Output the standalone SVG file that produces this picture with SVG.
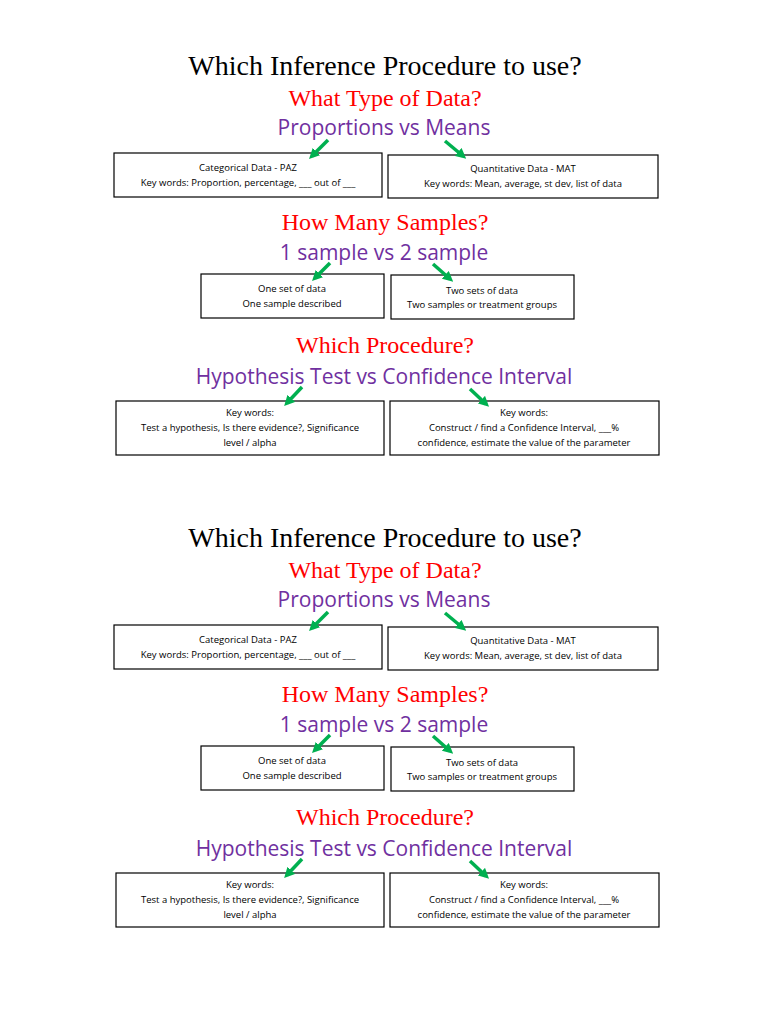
<svg xmlns="http://www.w3.org/2000/svg" xmlns:xlink="http://www.w3.org/1999/xlink" width="768" height="1024" viewBox="0 0 768 1024">
<style>
.t{font-family:"Liberation Serif",serif;font-size:28px;fill:#000;text-anchor:middle}
.r{font-family:"Liberation Serif",serif;font-size:24px;fill:#ff0000;text-anchor:middle}
.p{font-family:"Open Sans",sans-serif;font-size:21px;fill:#7030a0;text-anchor:middle}
.b{fill:#fff;stroke:#000;stroke-width:1.2}
.s{font-family:"Open Sans",sans-serif;font-size:9.5px;fill:#000;text-anchor:middle}
.a{stroke:#00b050;stroke-width:3.5;fill:none;marker-end:url(#ah)}
</style>
<defs>
<marker id="ah" viewBox="0 0 10 10" refX="6" refY="5" markerWidth="3" markerHeight="3" orient="auto"><path d="M0,0L10,5L0,10z" fill="#00b050"/></marker>
</defs>
<rect width="768" height="1024" fill="#fff"/>
<g id="copy1">
<g id="titles1">
<text class="t" x="385" y="75">Which Inference Procedure to use?</text>
<text class="r" x="385" y="106">What Type of Data?</text>
<text class="p" x="384" y="135">Proportions vs Means</text>
<text class="r" x="385" y="230">How Many Samples?</text>
<text class="p" x="384" y="260">1 sample vs 2 sample</text>
<text class="r" x="385" y="353">Which Procedure?</text>
<text class="p" x="384" y="384">Hypothesis Test vs Confidence Interval</text>
</g>
<g id="n1a"><rect class="b" x="114" y="153" width="268" height="44"/><text class="s" x="248" y="171">Categorical Data - PAZ</text><text class="s" x="248" y="186">Key words: Proportion, percentage, ___ out of ___</text></g>
<g id="n1b"><rect class="b" x="388" y="155" width="270" height="43"/><text class="s" x="523" y="172">Quantitative Data - MAT</text><text class="s" x="523" y="187">Key words: Mean, average, st dev, list of data</text></g>
<g id="n1c"><rect class="b" x="201" y="274" width="183" height="44"/><text class="s" x="292" y="292">One set of data</text><text class="s" x="292" y="307">One sample described</text></g>
<g id="n1d"><rect class="b" x="391" y="275" width="183" height="44"/><text class="s" x="482" y="294">Two sets of data</text><text class="s" x="482" y="308">Two samples or treatment groups</text></g>
<g id="n1e"><rect class="b" x="116" y="401" width="268" height="54"/><text class="s" x="250" y="416">Key words:</text><text class="s" x="250" y="431">Test a hypothesis, Is there evidence?, Significance</text><text class="s" x="250" y="446">level / alpha</text></g>
<g id="n1f"><rect class="b" x="390" y="401" width="269" height="54"/><text class="s" x="524" y="416">Key words:</text><text class="s" x="524" y="431">Construct / find a Confidence Interval, ___%</text><text class="s" x="524" y="446">confidence, estimate the value of the parameter</text></g>
<g id="connectors1">
<line class="a" x1="328" y1="140" x2="312" y2="156"/>
<line class="a" x1="445" y1="141" x2="463" y2="156"/>
<line class="a" x1="330" y1="263" x2="315" y2="278"/>
<line class="a" x1="433" y1="264" x2="450" y2="279"/>
<line class="a" x1="302" y1="387" x2="287" y2="403"/>
<line class="a" x1="470" y1="389" x2="486" y2="404"/>
</g>
</g>
<g id="copy2" transform="translate(0,472)">
<g id="titles2">
<text class="t" x="385" y="75">Which Inference Procedure to use?</text>
<text class="r" x="385" y="106">What Type of Data?</text>
<text class="p" x="384" y="135">Proportions vs Means</text>
<text class="r" x="385" y="230">How Many Samples?</text>
<text class="p" x="384" y="260">1 sample vs 2 sample</text>
<text class="r" x="385" y="353">Which Procedure?</text>
<text class="p" x="384" y="384">Hypothesis Test vs Confidence Interval</text>
</g>
<g id="n2a"><rect class="b" x="114" y="153" width="268" height="44"/><text class="s" x="248" y="171">Categorical Data - PAZ</text><text class="s" x="248" y="186">Key words: Proportion, percentage, ___ out of ___</text></g>
<g id="n2b"><rect class="b" x="388" y="155" width="270" height="43"/><text class="s" x="523" y="172">Quantitative Data - MAT</text><text class="s" x="523" y="187">Key words: Mean, average, st dev, list of data</text></g>
<g id="n2c"><rect class="b" x="201" y="274" width="183" height="44"/><text class="s" x="292" y="292">One set of data</text><text class="s" x="292" y="307">One sample described</text></g>
<g id="n2d"><rect class="b" x="391" y="275" width="183" height="44"/><text class="s" x="482" y="294">Two sets of data</text><text class="s" x="482" y="308">Two samples or treatment groups</text></g>
<g id="n2e"><rect class="b" x="116" y="401" width="268" height="54"/><text class="s" x="250" y="416">Key words:</text><text class="s" x="250" y="431">Test a hypothesis, Is there evidence?, Significance</text><text class="s" x="250" y="446">level / alpha</text></g>
<g id="n2f"><rect class="b" x="390" y="401" width="269" height="54"/><text class="s" x="524" y="416">Key words:</text><text class="s" x="524" y="431">Construct / find a Confidence Interval, ___%</text><text class="s" x="524" y="446">confidence, estimate the value of the parameter</text></g>
<g id="connectors2">
<line class="a" x1="328" y1="140" x2="312" y2="156"/>
<line class="a" x1="445" y1="141" x2="463" y2="156"/>
<line class="a" x1="330" y1="263" x2="315" y2="278"/>
<line class="a" x1="433" y1="264" x2="450" y2="279"/>
<line class="a" x1="302" y1="387" x2="287" y2="403"/>
<line class="a" x1="470" y1="389" x2="486" y2="404"/>
</g>
</g>
</svg>
